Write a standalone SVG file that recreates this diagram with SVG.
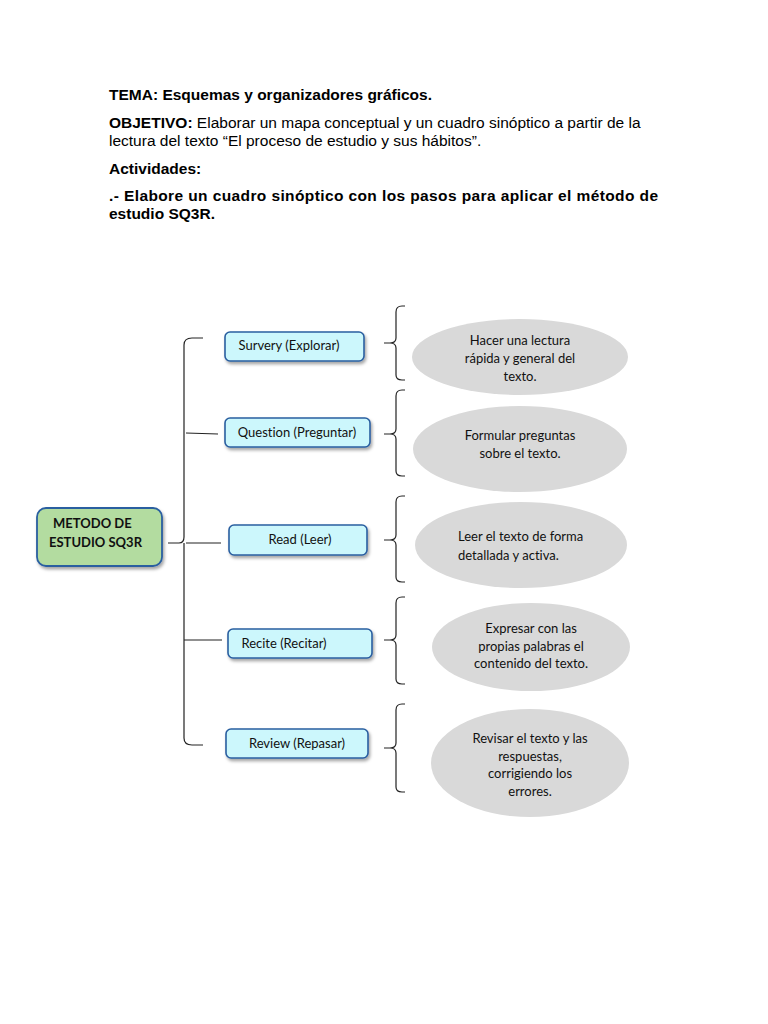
<svg xmlns="http://www.w3.org/2000/svg" width="768" height="1024" viewBox="0 0 768 1024">
<defs>
<style>
.hd{font-family:"Liberation Sans",Arial,sans-serif;font-size:15.5px;fill:#000}
.b{font-weight:bold}
.lbl{font-family:Lato,"Open Sans",sans-serif;font-size:13px;fill:#111;font-variant-ligatures:none}
.step{fill:#ccf7fc;stroke:#2a5fa0;stroke-width:1.6}
.main{fill:#b3dca0;stroke:#2a5fa0;stroke-width:1.8}
.ell{fill:#d9d9d9}
.br{fill:none;stroke:#222;stroke-width:1.2}
</style>
<filter id="sh" x="-20%" y="-30%" width="140%" height="170%">
<feDropShadow dx="1.5" dy="2.5" stdDeviation="1.5" flood-color="#000" flood-opacity="0.35"/>
</filter>
</defs>
<rect width="768" height="1024" fill="#fff"/>
<g id="header">
<text class="hd b" x="109" y="100">TEMA: Esquemas y organizadores gráficos.</text>
<text class="hd" x="109" y="128"><tspan class="b">OBJETIVO:</tspan> Elaborar un mapa conceptual y un cuadro sinóptico a partir de la</text>
<text class="hd" x="109" y="146">lectura del texto “El proceso de estudio y sus hábitos”.</text>
<text class="hd b" x="109" y="174">Actividades:</text>
<text class="hd b" x="109" y="201" textLength="549" lengthAdjust="spacing">.- Elabore un cuadro sinóptico con los pasos para aplicar el método de</text>
<text class="hd b" x="109" y="219">estudio SQ3R.</text>
</g>
<g id="connectors">
<path class="br" d="M168,543 L179,543 Q184,543 184,537 L184,345 Q184,338 192,338 L203,338 M184,543 Q184,549 184,551 L184,738 Q184,745 192,745 L203,745"/>
<path class="br" d="M186,433 L218,434"/>
<path class="br" d="M186,543 L221,543"/>
<path class="br" d="M184,640 L222,640"/>
<path class="br" d="M405,306 L402,306 Q396,306 396,312 L396,338 Q396,343 390,343 L384,343 M390,343 Q396,343 396,348 L396,375 Q396,380 402,380 L405,380"/>
<path class="br" d="M405,390 L402,390 Q396,390 396,396 L396,429 Q396,434 390,434 L384,434 M390,434 Q396,434 396,439 L396,471 Q396,476 402,476 L405,476"/>
<path class="br" d="M405,496 L402,496 Q396,496 396,502 L396,535 Q396,540 390,540 L384,540 M390,540 Q396,540 396,545 L396,577 Q396,582 402,582 L405,582"/>
<path class="br" d="M405,597 L402,597 Q396,597 396,603 L396,635 Q396,640 390,640 L384,640 M390,640 Q396,640 396,645 L396,679 Q396,684 402,684 L405,684"/>
<path class="br" d="M405,704 L402,704 Q396,704 396,710 L396,743 Q396,748 390,748 L384,748 M390,748 Q396,748 396,753 L396,787 Q396,792 402,792 L405,792"/>
</g>
<g id="main">
<rect class="main" x="37" y="508" width="125" height="58" rx="9" filter="url(#sh)"/>
<text class="lbl b" x="53" y="528" font-size="13.5">METODO DE</text>
<text class="lbl b" x="49" y="547" font-size="13.5">ESTUDIO SQ3R</text>
</g>
<g id="survey">
<rect class="step" x="225" y="332" width="139" height="29" rx="5" filter="url(#sh)"/>
<text class="lbl" x="289" y="350" text-anchor="middle">Survery (Explorar)</text>
</g>
<g id="question">
<rect class="step" x="225" y="418" width="145" height="29" rx="5" filter="url(#sh)"/>
<text class="lbl" x="297" y="437" text-anchor="middle">Question (Preguntar)</text>
</g>
<g id="read">
<rect class="step" x="229" y="525" width="138" height="30" rx="5" filter="url(#sh)"/>
<text class="lbl" x="300" y="544" text-anchor="middle">Read (Leer)</text>
</g>
<g id="recite">
<rect class="step" x="228" y="629" width="144" height="29" rx="5" filter="url(#sh)"/>
<text class="lbl" x="284" y="648" text-anchor="middle">Recite (Recitar)</text>
</g>
<g id="review">
<rect class="step" x="226" y="729" width="142" height="29" rx="5" filter="url(#sh)"/>
<text class="lbl" x="297" y="748" text-anchor="middle">Review (Repasar)</text>
</g>
<g id="desc1">
<ellipse class="ell" cx="520" cy="357" rx="108" ry="38"/>
<text class="lbl" x="520" y="345" text-anchor="middle">Hacer una lectura</text>
<text class="lbl" x="520" y="363" text-anchor="middle">rápida y general del</text>
<text class="lbl" x="520" y="381" text-anchor="middle">texto.</text>
</g>
<g id="desc2">
<ellipse class="ell" cx="520" cy="449" rx="107" ry="43"/>
<text class="lbl" x="520" y="440" text-anchor="middle">Formular preguntas</text>
<text class="lbl" x="520" y="458" text-anchor="middle">sobre el texto.</text>
</g>
<g id="desc3">
<ellipse class="ell" cx="521" cy="545" rx="106" ry="43"/>
<text class="lbl" x="458" y="541">Leer el texto de forma</text>
<text class="lbl" x="458" y="560">detallada y activa.</text>
</g>
<g id="desc4">
<ellipse class="ell" cx="531" cy="647" rx="99" ry="44"/>
<text class="lbl" x="531" y="633" text-anchor="middle">Expresar con las</text>
<text class="lbl" x="531" y="651" text-anchor="middle">propias palabras el</text>
<text class="lbl" x="531" y="668" text-anchor="middle">contenido del texto.</text>
</g>
<g id="desc5">
<ellipse class="ell" cx="530" cy="763" rx="99" ry="54"/>
<text class="lbl" x="530" y="743" text-anchor="middle">Revisar el texto y las</text>
<text class="lbl" x="530" y="761" text-anchor="middle">respuestas,</text>
<text class="lbl" x="530" y="778" text-anchor="middle">corrigiendo los</text>
<text class="lbl" x="530" y="796" text-anchor="middle">errores.</text>
</g>
</svg>
